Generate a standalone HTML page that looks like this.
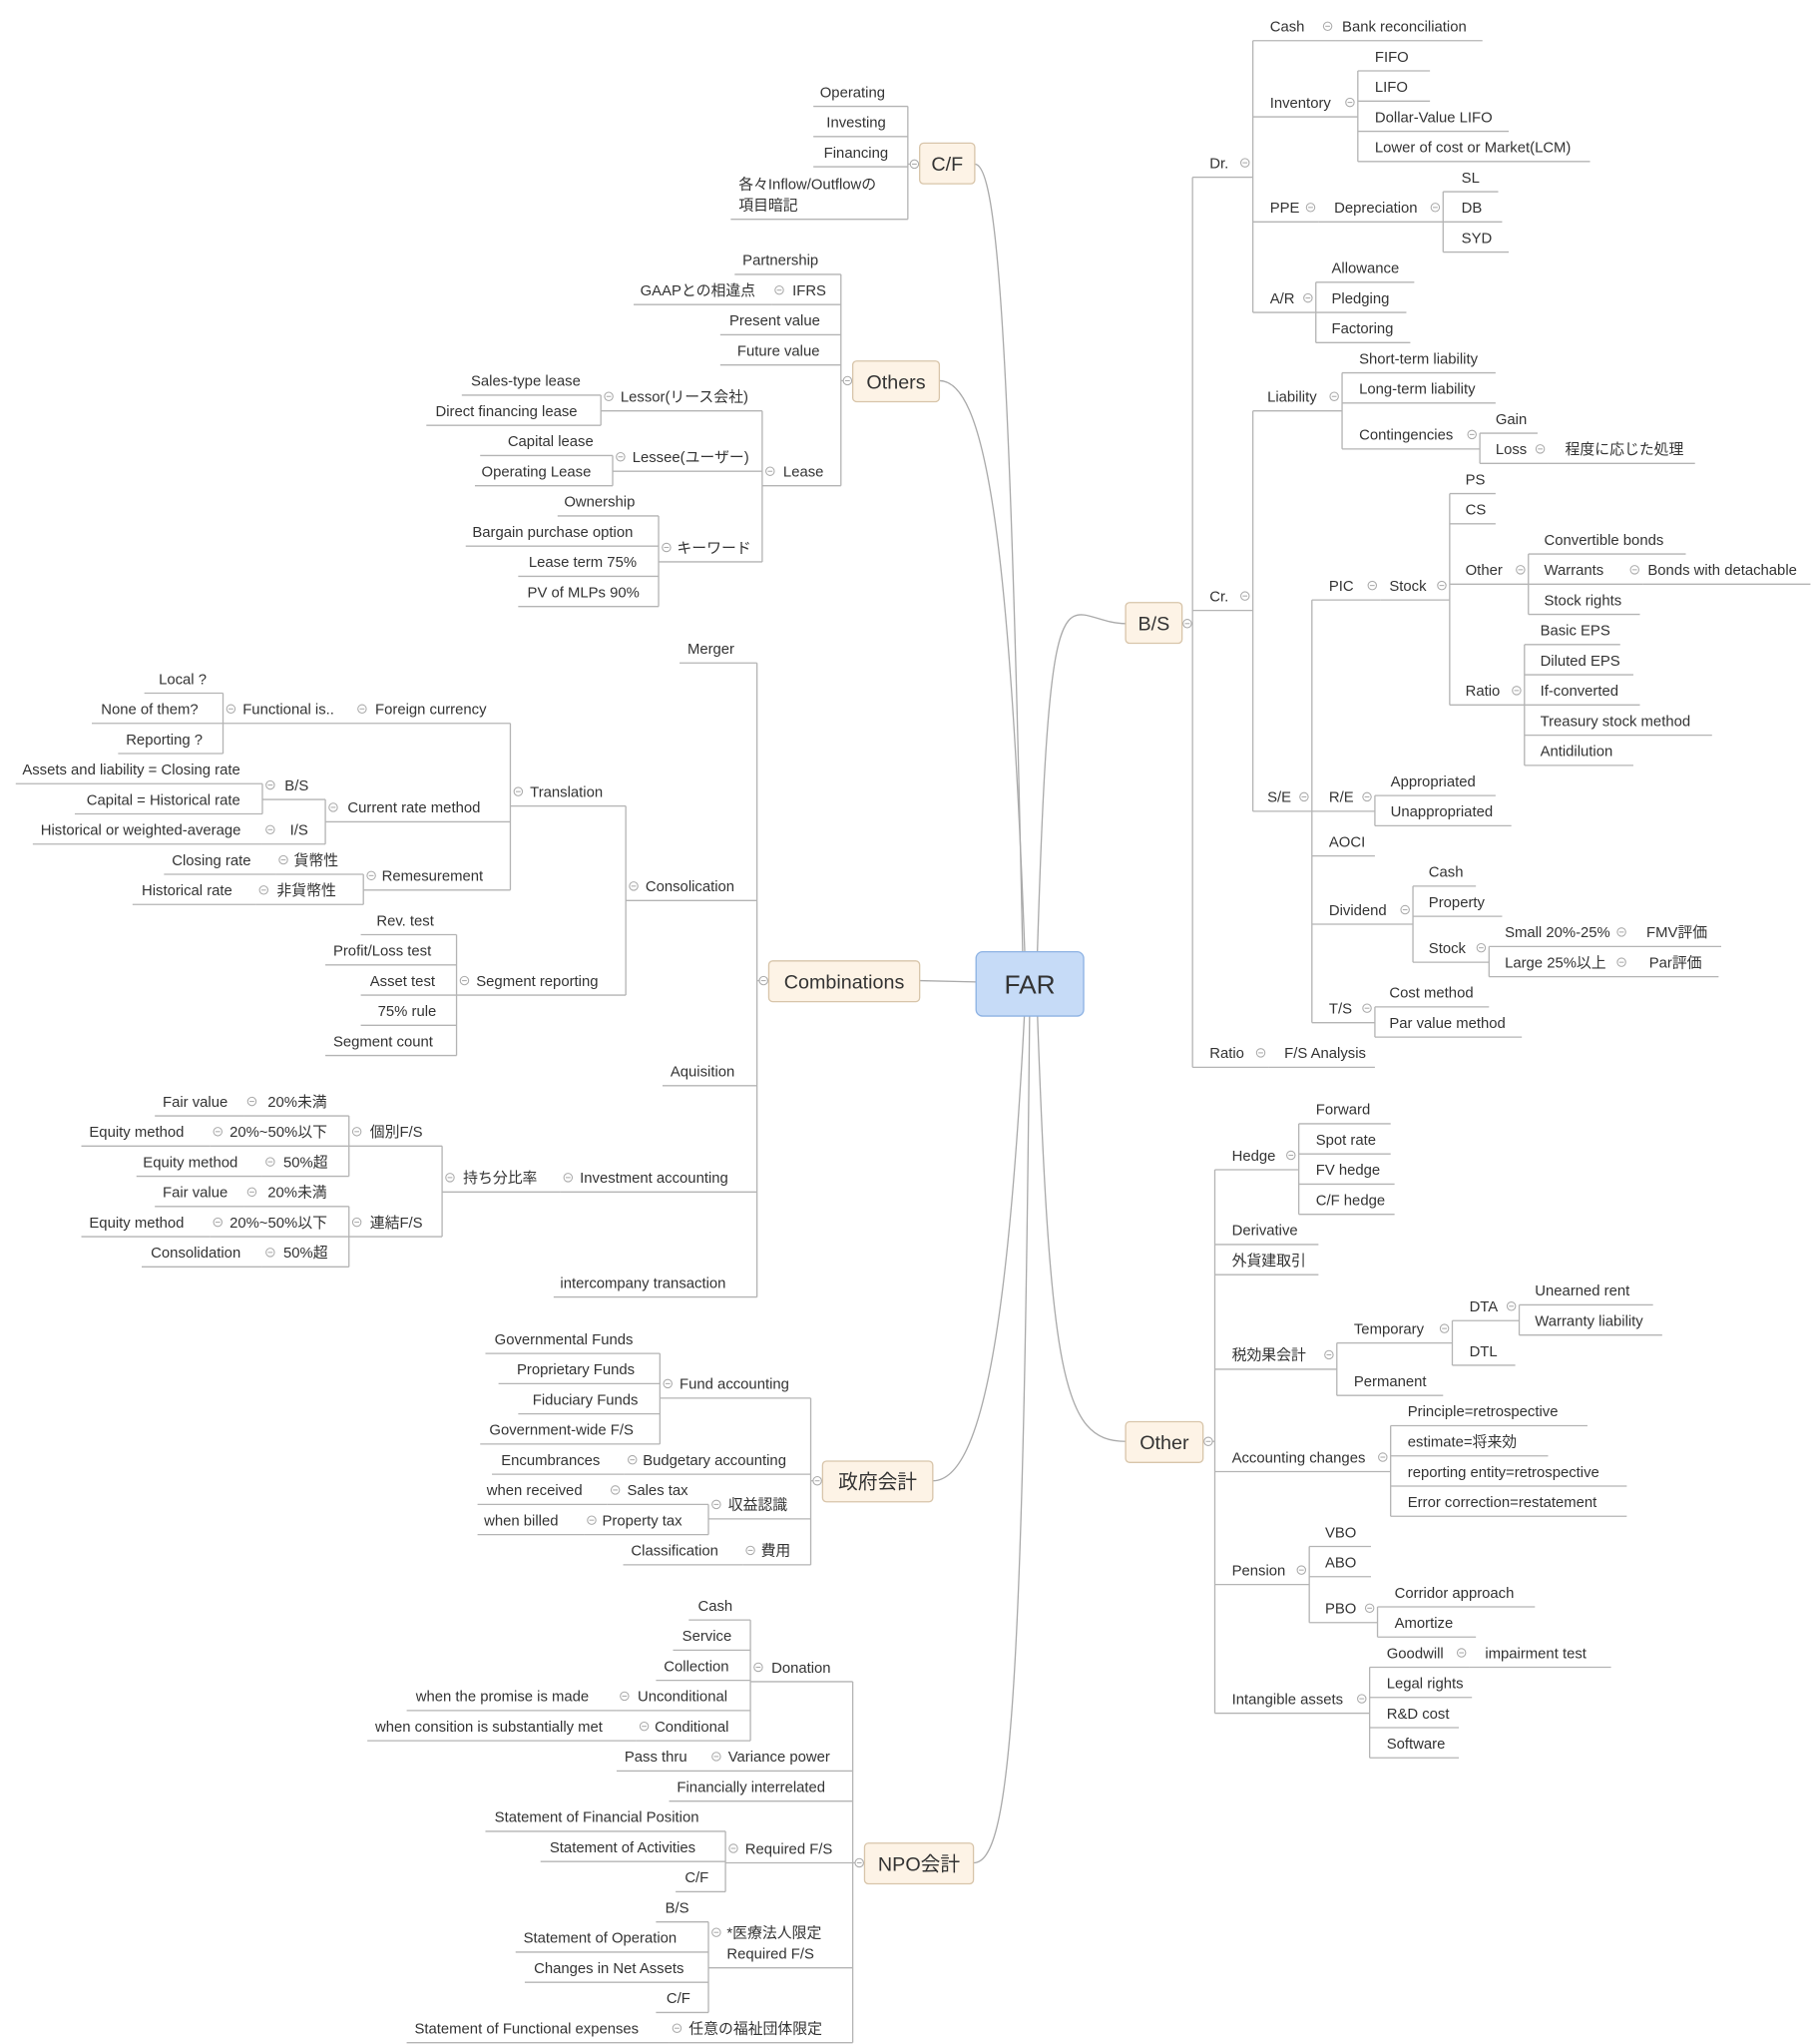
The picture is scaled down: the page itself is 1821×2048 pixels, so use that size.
<!DOCTYPE html>
<html><head><meta charset="utf-8">
<style>
html,body{margin:0;padding:0;background:#fff;}
svg{display:block;}
text{font-family:"Liberation Sans","Noto Sans CJK JP",sans-serif;font-size:11.3px;fill:#333;}
.box{font-size:15px;}
</style></head>
<body>
<svg id="s" xmlns="http://www.w3.org/2000/svg" width="1821" height="2048" viewBox="0 0 1385 1557" preserveAspectRatio="none">
<g id="curves" fill="none" stroke="#aaa" stroke-width="1">
<path d="M790 750 C 800 400, 810 475, 858 475"/>
<path d="M790 750 C 800 1050, 810 1098, 858 1098"/>
<path d="M780 750 C 770 250, 760 125, 743 125"/>
<path d="M782 750 C 770 400, 750 290, 716 290"/>
<path d="M744 748 L 701 747"/>
<path d="M782 750 C 770 1000, 750 1128, 711 1128"/>
<path d="M785 750 C 780 1300, 770 1419, 742 1419"/>
</g>
<g id="lines" fill="none" stroke="#b4b4b4" stroke-width="1"></g>
<g id="marks" fill="#fff" stroke="#aaa" stroke-width="0.8"></g>
<g id="texts"></g>
<g>
<rect x="744" y="725" width="82" height="49" rx="5" fill="#c6dbf7" stroke="#8db2e3"/>
<text x="785" y="757" text-anchor="middle" style="font-size:20px">FAR</text>
<rect x="858" y="459" width="43" height="31" rx="3" fill="#fdf3e6" stroke="#d8c5aa"/>
<text class="box" x="879.5" y="480" text-anchor="middle">B/S</text>
<rect x="858" y="1083" width="59" height="31" rx="3" fill="#fdf3e6" stroke="#d8c5aa"/>
<text class="box" x="887.5" y="1104" text-anchor="middle">Other</text>
<rect x="701" y="109" width="42" height="31" rx="3" fill="#fdf3e6" stroke="#d8c5aa"/>
<text class="box" x="722" y="130" text-anchor="middle">C/F</text>
<rect x="650" y="275" width="66" height="31" rx="3" fill="#fdf3e6" stroke="#d8c5aa"/>
<text class="box" x="683" y="296" text-anchor="middle">Others</text>
<rect x="586" y="732" width="115" height="31" rx="3" fill="#fdf3e6" stroke="#d8c5aa"/>
<text class="box" x="643.5" y="753" text-anchor="middle">Combinations</text>
<rect x="627" y="1113" width="84" height="31" rx="3" fill="#fdf3e6" stroke="#d8c5aa"/>
<text class="box" x="669" y="1134" text-anchor="middle">政府会計</text>
<rect x="659" y="1404" width="83" height="31" rx="3" fill="#fdf3e6" stroke="#d8c5aa"/>
<text class="box" x="700.5" y="1425" text-anchor="middle">NPO会計</text>
</g>
</svg>
<script>
(function(){
const NS="http://www.w3.org/2000/svg";
const L=document.getElementById('lines'),M=document.getElementById('marks'),T=document.getElementById('texts');
function ln(x1,y1,x2,y2){const e=document.createElementNS(NS,'line');e.setAttribute('x1',x1);e.setAttribute('y1',y1);e.setAttribute('x2',x2);e.setAttribute('y2',y2);L.appendChild(e);}
function mk(x,y){const c=document.createElementNS(NS,'circle');c.setAttribute('cx',x);c.setAttribute('cy',y);c.setAttribute('r',3.2);M.appendChild(c);const e=document.createElementNS(NS,'line');e.setAttribute('x1',x-1.8);e.setAttribute('x2',x+1.8);e.setAttribute('y1',y);e.setAttribute('y2',y);M.appendChild(e);}
function tx(x,y,lines){lines.forEach((s,i)=>{const e=document.createElementNS(NS,'text');e.setAttribute('x',x);e.setAttribute('y',y+4+16*i);e.textContent=s;T.appendChild(e);});}
function uy(n){return n[2]+11+16*(n[0].split('\n').length-1);}
function draw(n,px,side){
 const t=n[0],x=n[1],y=n[2],xe=n[3],ch=n[4];const lines=t.split('\n');const u=uy(n);
 ln(px,u,xe,u);tx(x,y,lines);
 if(ch){mk(side>0?xe-6:xe+6,y);let ys=ch.map(uy);ys.push(u);ln(xe,Math.min.apply(null,ys),xe,Math.max.apply(null,ys));ch.forEach(c=>draw(c,xe,side));}
}
function drawTop(px,boxEdge,cy,side,ch){
 ln(boxEdge,cy,px,cy);mk(boxEdge+(side>0?4:-4),cy);
 const ys=ch.map(uy);ln(px,Math.min.apply(null,ys),px,Math.max.apply(null,ys));
 ch.forEach(c=>draw(c,px,side));
}
drawTop(909,901,475,1,[
 ["Dr.",922,124,955,[
   ["Cash",968,20,1018,[["Bank reconciliation",1023,20,1130]]],
   ["Inventory",968,78,1035,[["FIFO",1048,43,1090],["LIFO",1048,66,1090],["Dollar-Value LIFO",1048,89,1150],["Lower of cost or Market(LCM)",1048,112,1212]]],
   ["PPE",968,158,1005,[["Depreciation",1017,158,1100,[["SL",1114,135,1142],["DB",1114,158,1145],["SYD",1114,181,1150]]]]],
   ["A/R",968,227,1003,[["Allowance",1015,204,1078],["Pledging",1015,227,1072],["Factoring",1015,250,1075]]]
 ]],
 ["Cr.",922,454,955,[
   ["Liability",966,302,1023,[["Short-term liability",1036,273,1140],["Long-term liability",1036,296,1140],
     ["Contingencies",1036,331,1128,[["Gain",1140,319,1172],["Loss",1140,342,1180,[["程度に応じた処理",1193,342,1292]]]]]]],
   ["S/E",966,607,1000,[
     ["PIC",1013,446,1052,[["Stock",1059,446,1105,[
        ["PS",1117,365,1140],["CS",1117,388,1140],
        ["Other",1117,434,1165,[["Convertible bonds",1177,411,1285],["Warrants",1177,434,1252,[["Bonds with detachable",1256,434,1380]]],["Stock rights",1177,457,1250]]],
        ["Ratio",1117,526,1162,[["Basic EPS",1174,480,1235],["Diluted EPS",1174,503,1245],["If-converted",1174,526,1250],["Treasury stock method",1174,549,1305],["Antidilution",1174,572,1245]]]
     ]]]],
     ["R/E",1013,607,1048,[["Appropriated",1060,595,1140],["Unappropriated",1060,618,1152]]],
     ["AOCI",1013,641,1048],
     ["Dividend",1013,693,1077,[["Cash",1089,664,1125],["Property",1089,687,1145],["Stock",1089,722,1135,[["Small 20%-25%",1147,710,1242,[["FMV評価",1255,710,1312]]],["Large 25%以上",1147,733,1242,[["Par評価",1257,733,1310]]]]]]],
     ["T/S",1013,768,1048,[["Cost method",1059,756,1135],["Par value method",1059,779,1160]]]
   ]]
 ]],
 ["Ratio",922,802,967,[["F/S Analysis",979,802,1048]]]
]);
drawTop(926,917,1098,1,[
 ["Hedge",939,880,990,[["Forward",1003,845,1060],["Spot rate",1003,868,1060],["FV hedge",1003,891,1063],["C/F hedge",1003,914,1063]]],
 ["Derivative",939,937,1005],
 ["外貨建取引",939,960,1005],
 ["税効果会計",939,1032,1019,[["Temporary",1032,1012,1107,[["DTA",1120,995,1158,[["Unearned rent",1170,983,1260],["Warranty liability",1170,1006,1267]]],["DTL",1120,1029,1155]]],["Permanent",1032,1052,1100]]],
 ["Accounting changes",939,1110,1060,[["Principle=retrospective",1073,1075,1210],["estimate=将来効",1073,1098,1180],["reporting entity=retrospective",1073,1121,1240],["Error correction=restatement",1073,1144,1240]]],
 ["Pension",939,1196,998,[["VBO",1010,1167,1045],["ABO",1010,1190,1045],["PBO",1010,1225,1050,[["Corridor approach",1063,1213,1170],["Amortize",1063,1236,1125]]]]],
 ["Intangible assets",939,1294,1044,[["Goodwill",1057,1259,1120,[["impairment test",1132,1259,1228]]],["Legal rights",1057,1282,1122],["R&D cost",1057,1305,1112],["Software",1057,1328,1112]]]
]);
drawTop(692,701,125,-1,[
 ["Operating",625,70,620],["Investing",630,93,620],["Financing",628,116,620],["各々Inflow/Outflowの\n項目暗記",563,140,557]
]);
drawTop(641,650,290,-1,[
 ["Partnership",566,198,560],
 ["IFRS",604,221,588,[["GAAPとの相違点",488,221,483]]],
 ["Present value",556,244,549],
 ["Future value",562,267,549],
 ["Lease",597,359,581,[
   ["Lessor(リース会社)",473,302,458,[["Sales-type lease",359,290,352],["Direct financing lease",332,313,325]]],
   ["Lessee(ユーザー)",482,348,467,[["Capital lease",387,336,366],["Operating Lease",367,359,362]]],
   ["キーワード",516,417,502,[["Ownership",430,382,425],["Bargain purchase option",360,405,355],["Lease term 75%",403,428,395],["PV of MLPs 90%",402,451,395]]]
 ]]
]);
drawTop(577,586,747,-1,[
 ["Merger",524,494,518],
 ["Consolication",492,675,477,[
   ["Translation",404,603,389,[
     ["Foreign currency",286,540,270,[["Functional is..",185,540,170,[["Local ?",121,517,110],["None of them?",77,540,70],["Reporting ?",96,563,90]]]]],
     ["Current rate method",265,615,248,[["B/S",217,598,200,[["Assets and liability = Closing rate",17,586,12],["Capital = Historical rate",66,609,57]]],["I/S",221,632,200,[["Historical or weighted-average",31,632,25]]]]],
     ["Remesurement",291,667,277,[["貨幣性",224,655,210,[["Closing rate",131,655,125]]],["非貨幣性",211,678,195,[["Historical rate",108,678,101]]]]]
   ]],
   ["Segment reporting",363,747,348,[["Rev. test",287,701,275],["Profit/Loss test",254,724,248],["Asset test",282,747,275],["75% rule",288,770,275],["Segment count",254,793,248]]]
 ]],
 ["Aquisition",511,816,505],
 ["Investment accounting",442,897,427,[["持ち分比率",353,897,337,[
   ["個別F/S",282,862,266,[["20%未満",204,839,186,[["Fair value",124,839,118]]],["20%~50%以下",175,862,160,[["Equity method",68,862,62]]],["50%超",216,885,200,[["Equity method",109,885,104]]]]],
   ["連結F/S",282,931,266,[["20%未満",204,908,186,[["Fair value",124,908,118]]],["20%~50%以下",175,931,160,[["Equity method",68,931,62]]],["50%超",216,954,200,[["Consolidation",115,954,108]]]]]
 ]]]],
 ["intercompany transaction",427,977,422]
]);
drawTop(618,627,1128,-1,[
 ["Fund accounting",518,1054,503,[["Governmental Funds",377,1020,370],["Proprietary Funds",394,1043,380],["Fiduciary Funds",406,1066,395],["Government-wide F/S",373,1089,366]]],
 ["Budgetary accounting",490,1112,476,[["Encumbrances",382,1112,375]]],
 ["収益認識",555,1146,540,[["Sales tax",478,1135,463,[["when received",371,1135,364]]],["Property tax",459,1158,445,[["when billed",369,1158,364]]]]],
 ["費用",580,1181,566,[["Classification",481,1181,475]]]
]);
drawTop(650,659,1419,-1,[
 ["Donation",588,1270,572,[["Cash",532,1223,525],["Service",520,1246,513],["Collection",506,1269,500],["Unconditional",486,1292,470,[["when the promise is made",317,1292,310]]],["Conditional",499,1315,485,[["when consition is substantially met",286,1315,280]]]]],
 ["Variance power",555,1338,540,[["Pass thru",476,1338,470]]],
 ["Financially interrelated",516,1361,510],
 ["Required F/S",568,1408,553,[["Statement of Financial Position",377,1384,370],["Statement of Activities",419,1407,412],["C/F",522,1430,515]]],
 ["*医療法人限定\nRequired F/S",554,1472,540,[["B/S",507,1453,500],["Statement of Operation",399,1476,393],["Changes in Net Assets",407,1499,400],["C/F",508,1522,500]]],
 ["任意の福祉団体限定",525,1545,510,[["Statement of Functional expenses",316,1545,310]]]
]);
})();
</script>
</body></html>
